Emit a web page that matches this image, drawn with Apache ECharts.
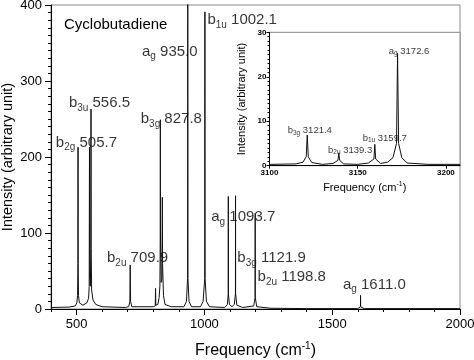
<!DOCTYPE html>
<html lang="en">
<head>
  <meta charset="UTF-8">
  <title>Cyclobutadiene spectrum</title>
  <script src="https://cdn.jsdelivr.net/npm/echarts@6.0.0/dist/echarts.min.js"></script>
  <style>
    html, body { margin: 0; padding: 0; background: #fff; }
    #chart { width: 474px; height: 360px; }
  </style>
</head>
<body>
  <div id="chart"></div>
  <script>
    // main spectrum, 400-2000 cm-1
    const mainFreq = [400, 470, 495, 501, 504, 505.2, 505.7, 506.2, 507.5, 511, 525, 540, 547, 549.5, 550.5, 551.5, 554,
      555.8, 556.5, 557.2, 559, 564, 575, 600, 690, 704, 708.5, 709.9, 711.3, 716, 800, 808, 809, 810, 818, 823, 826,
      827.4, 827.8, 828.2, 831, 834, 835.6, 836.4, 840, 846, 870, 920, 930, 934.2, 935.0, 935.8, 940, 950, 985, 995,
      1001.3, 1002.1, 1002.9, 1008, 1020, 1080, 1090, 1093.3, 1093.7, 1094.1, 1098, 1108, 1117, 1121.5, 1121.9, 1122.3,
      1127, 1150, 1193, 1198.4, 1198.8, 1199.2, 1205, 1260, 1400, 1600, 1610.6, 1611.0, 1611.4, 1625, 2000];
    const mainInt = [2, 2.5, 4, 8, 18, 60, 213, 60, 18, 8, 5, 8, 14, 30, 213, 40, 30,
      80, 263, 80, 25, 12, 6, 3, 2, 3, 10, 58, 10, 3, 3, 4, 27, 5, 6, 15, 30,
      100, 249, 100, 35, 40, 147, 60, 18, 6, 3, 3, 10, 40, 430, 40, 10, 3, 3, 10,
      40, 391, 40, 10, 3, 2, 6, 20, 148, 20, 6, 3, 6, 20, 149, 20,
      5, 2, 4, 15, 126, 15, 3, 1, 0.5, 0.5, 3, 18, 3, 0.5, 0.5];

    // inset spectrum, 3100-3200 cm-1
    const insetFreq = [3100, 3115, 3119, 3120.8, 3121.4, 3122, 3124, 3130, 3136, 3138.8, 3139.3, 3139.8, 3142, 3150,
      3156, 3159.2, 3159.7, 3160.2, 3163, 3167, 3170, 3172, 3172.6, 3173.2, 3175, 3178, 3190, 3208];
    const insetInt = [0.3, 0.4, 0.8, 2, 6.9, 2, 0.7, 0.3, 0.5, 1.2, 2.9, 1.2, 0.4, 0.3,
      0.6, 1.5, 4.8, 1.5, 0.5, 0.8, 1.8, 5, 25.3, 5, 1.8, 0.6, 0.3, 0.3];

    // peak annotations: symmetry, subscript, frequency, anchor (data units)
    const mainSym = ['b', 'b', 'b', 'a', 'b', 'b', 'a', 'b', 'b', 'a'];
    const mainSub = ['2g', '3u', '3g', 'g', '1u', '2u', 'g', '3g', '2u', 'g'];
    const mainNum = ['505.7', '556.5', '827.8', '935.0', '1002.1', '709.9', '1093.7', '1121.9', '1198.8', '1611.0'];
    const mainLabX = [419, 470, 751, 756, 1012, 619, 1027, 1129, 1208, 1542];
    const mainLabY = [219, 271, 250, 339, 380, 67, 121, 67, 42, 32];

    const insetSym = ['b', 'b', 'b', 'a'];
    const insetSub = ['3g', '2u', '1u', 'g'];
    const insetNum = ['3121.4', '3139.3', '3159.7', '3172.6'];
    const insetLabX = [3110.3, 3133.2, 3152.8, 3167.6];
    const insetLabY = [7.9, 3.5, 6.2, 25.8];

    const mainTicks = [500, 1000, 1500, 2000];
    const insetTicks = [3100, 3150, 3200];

    const font = 'Liberation Sans, Arial, sans-serif';

    function pairs(xs, ys) {
      return xs.map((x, i) => [x, ys[i]]);
    }

    function labelData(sym, sub, num, xs, ys) {
      return sym.map((s, i) => ({
        value: [xs[i], ys[i]],
        label: { formatter: '{m|' + s + '}{s|' + sub[i] + '}{m| ' + num[i] + '}' }
      }));
    }

    const plain = v => String(v);

    const chart = echarts.init(document.getElementById('chart'));

    const option = {
      animation: false,
      textStyle: { fontFamily: font, color: '#000' },
      grid: [
        { left: 51, right: 14, top: 5, bottom: 51, show: true, borderColor: '#888', borderWidth: 1,
          containLabel: false, outerBoundsMode: 'none' },
        { left: 269.5, right: 14, top: 32.3, bottom: 194.3, show: true, borderColor: '#888', borderWidth: 1,
          backgroundColor: '#fff', containLabel: false, outerBoundsMode: 'none' }
      ],
      title: {
        text: 'Cyclobutadiene',
        left: 59, top: 12,
        textStyle: { fontFamily: font, fontSize: 15, fontWeight: 'normal', color: '#000' }
      },
      xAxis: [
        {
          type: 'value', gridIndex: 0, min: 400, max: 2000, position: 'bottom',
          name: 'Frequency (cm{sup|-1})', nameLocation: 'middle', nameGap: 32, nameMoveOverlap: false,
          nameTextStyle: { fontSize: 16, lineHeight: 20, color: '#000', rich: { sup: { fontSize: 10, lineHeight: 12, verticalAlign: 'top' } } },
          axisLine: { lineStyle: { color: '#000', width: 1 } },
          axisTick: { customValues: mainTicks, length: 6, lineStyle: { color: '#000' } },
          axisLabel: { customValues: mainTicks, formatter: plain, fontSize: 13, color: '#000', margin: 9 },
          splitLine: { show: false }
        },
        {
          type: 'value', gridIndex: 0, min: 400, max: 2000, interval: 100, position: 'bottom',
          axisLine: { show: false },
          axisTick: { length: 3, lineStyle: { color: '#000' } },
          axisLabel: { show: false },
          splitLine: { show: false }
        },
        {
          type: 'value', gridIndex: 1, min: 3100, max: 3208, position: 'bottom',
          name: 'Frequency (cm{sup|-1})', nameLocation: 'middle', nameGap: 15, nameMoveOverlap: false,
          nameTextStyle: { fontSize: 11, lineHeight: 14, color: '#000', rich: { sup: { fontSize: 7, lineHeight: 8, verticalAlign: 'top' } } },
          axisLine: { lineStyle: { color: '#000', width: 1 } },
          axisTick: { customValues: insetTicks, length: 3, lineStyle: { color: '#000' } },
          axisLabel: { customValues: insetTicks, formatter: plain, fontSize: 8, fontWeight: 'bold', color: '#000', margin: 3 },
          splitLine: { show: false }
        }
      ],
      yAxis: [
        {
          type: 'value', gridIndex: 0, min: 0, max: 400, interval: 100,
          name: 'Intensity (arbitrary unit)', nameLocation: 'middle', nameGap: 36, nameMoveOverlap: false,
          nameTextStyle: { fontSize: 14.5, lineHeight: 15, color: '#000' },
          axisLine: { show: true, lineStyle: { color: '#000', width: 1 } },
          axisTick: { show: true, length: 6, lineStyle: { color: '#000' } },
          minorTick: { show: true, splitNumber: 10, length: 3, lineStyle: { color: '#000' } },
          axisLabel: { fontSize: 13, color: '#000', margin: 9 },
          splitLine: { show: false }
        },
        {
          type: 'value', gridIndex: 1, min: 0, max: 30, interval: 10,
          name: 'Intensity (arbitrary unit)', nameLocation: 'middle', nameGap: 22, nameMoveOverlap: false,
          nameTextStyle: { fontSize: 11, color: '#000' },
          axisLine: { show: true, lineStyle: { color: '#000', width: 1 } },
          axisTick: { show: true, length: 3, lineStyle: { color: '#000' } },
          minorTick: { show: true, splitNumber: 10, length: 2, lineStyle: { color: '#000' } },
          axisLabel: { fontSize: 8, fontWeight: 'bold', color: '#000', margin: 3 },
          splitLine: { show: false }
        }
      ],
      series: [
        {
          type: 'line', xAxisIndex: 0, yAxisIndex: 0,
          data: pairs(mainFreq, mainInt),
          showSymbol: false, clip: true,
          lineStyle: { color: '#111', width: 1 }
        },
        {
          type: 'line', xAxisIndex: 2, yAxisIndex: 1,
          data: pairs(insetFreq, insetInt),
          showSymbol: false, clip: true,
          lineStyle: { color: '#111', width: 1 }
        },
        {
          type: 'scatter', xAxisIndex: 0, yAxisIndex: 0, symbolSize: 0, silent: true,
          data: labelData(mainSym, mainSub, mainNum, mainLabX, mainLabY),
          label: {
            show: true, position: 'right', distance: 0, color: '#000',
            rich: {
              m: { fontFamily: font, fontSize: 15, lineHeight: 20, color: '#000' },
              s: { fontFamily: font, fontSize: 10, lineHeight: 12, verticalAlign: 'bottom', color: '#000' }
            }
          }
        },
        {
          type: 'scatter', xAxisIndex: 2, yAxisIndex: 1, symbolSize: 0, silent: true,
          data: labelData(insetSym, insetSub, insetNum, insetLabX, insetLabY),
          label: {
            show: true, position: 'right', distance: 0, color: '#000',
            rich: {
              m: { fontFamily: font, fontSize: 9.5, lineHeight: 12, color: '#000' },
              s: { fontFamily: font, fontSize: 6.5, lineHeight: 7, verticalAlign: 'bottom', color: '#000' }
            }
          }
        }
      ]
    };

    chart.setOption(option);
  </script>
</body>
</html>
